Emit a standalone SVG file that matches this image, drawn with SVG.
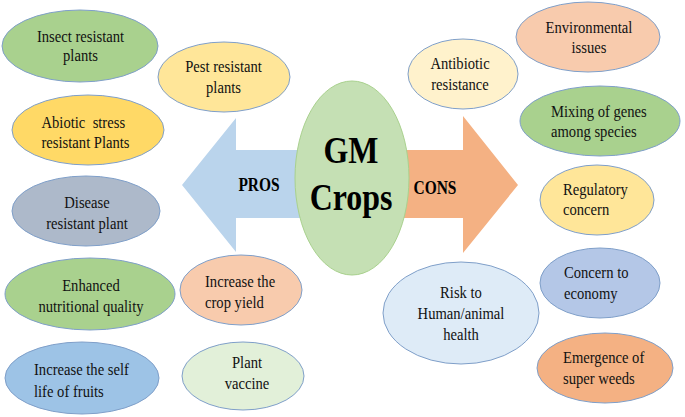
<svg xmlns="http://www.w3.org/2000/svg" width="685" height="417" viewBox="0 0 685 417">
<style>
.e{stroke:#7f9fc9;stroke-width:1}
.t{font-family:"Liberation Serif","Times New Roman",serif;font-size:17px;fill:#111}
.c{text-anchor:middle}
.b{font-weight:bold;fill:#000}
</style>
<rect width="685" height="417" fill="#fff"/>
<g id="connectors">
<polygon id="pros-arrow" points="182,185 236,118 236,150 325,150 325,218 236,218 236,252" fill="#bad4ec"/>
<polygon id="cons-arrow" points="385,150 463,150 463,116 518,185 463,253 463,218 385,218" fill="#f4b183"/>
<g transform="translate(259,0) scale(0.86,1)"><text class="t b c" x="0" y="191" style="font-size:18px">PROS</text></g>
<g transform="translate(435,0) scale(0.86,1)"><text class="t b c" x="0" y="194" style="font-size:18px">CONS</text></g>
</g>
<g id="gm-crops">
<ellipse class="e" cx="352" cy="178" rx="57" ry="97" fill="#c5e0b4" style="stroke:#a9d18e"/>
<g transform="translate(351,0) scale(0.84,1)"><text class="t b c" x="0" y="163" style="font-size:38px">GM</text><text class="t b c" x="0" y="210" style="font-size:38px">Crops</text></g>
</g>
<g id="insect">
<ellipse class="e" cx="80" cy="46" rx="78" ry="36" fill="#a9d18e"/>
<g transform="translate(80.5,0) scale(0.86,1)"><text class="t c" x="0" y="42">Insect resistant</text><text class="t c" x="0" y="61">plants</text></g>
</g>
<g id="pest">
<ellipse class="e" cx="224" cy="77" rx="66" ry="35" fill="#ffe699"/>
<g transform="translate(223.5,0) scale(0.86,1)"><text class="t c" x="0" y="72">Pest resistant</text><text class="t c" x="0" y="93">plants</text></g>
</g>
<g id="abiotic">
<ellipse class="e" cx="88" cy="130" rx="76" ry="35" fill="#ffd966"/>
<g transform="translate(41.5,0) scale(0.86,1)"><text class="t" x="0" y="128" xml:space="preserve">Abiotic  stress</text><text class="t" x="0" y="148">resistant Plants</text></g>
</g>
<g id="disease">
<ellipse class="e" cx="86" cy="211" rx="74" ry="35" fill="#adb9ca"/>
<g transform="translate(87,0) scale(0.86,1)"><text class="t c" x="0" y="208">Disease</text><text class="t c" x="0" y="229">resistant plant</text></g>
</g>
<g id="nutrition">
<ellipse class="e" cx="90" cy="294" rx="85" ry="36" fill="#a9d18e"/>
<g transform="translate(91,0) scale(0.86,1)"><text class="t c" x="0" y="291">Enhanced</text><text class="t c" x="0" y="312">nutritional quality</text></g>
</g>
<g id="shelf-life">
<ellipse class="e" cx="82" cy="378" rx="77" ry="36" fill="#9dc3e6"/>
<g transform="translate(34,0) scale(0.86,1)"><text class="t" x="0" y="375">Increase the self</text><text class="t" x="0" y="397">life of fruits</text></g>
</g>
<g id="crop-yield">
<ellipse class="e" cx="241" cy="290" rx="61" ry="35" fill="#f8cbad"/>
<g transform="translate(205,0) scale(0.86,1)"><text class="t" x="0" y="287">Increase the</text><text class="t" x="0" y="308">crop yield</text></g>
</g>
<g id="vaccine">
<ellipse class="e" cx="243" cy="376" rx="61" ry="34" fill="#e2f0d9"/>
<g transform="translate(247,0) scale(0.86,1)"><text class="t c" x="0" y="368">Plant</text><text class="t c" x="0" y="389">vaccine</text></g>
</g>
<g id="antibiotic">
<ellipse class="e" cx="463" cy="74" rx="55" ry="35" fill="#fff2cc"/>
<g transform="translate(460,0) scale(0.86,1)"><text class="t c" x="0" y="69">Antibiotic</text><text class="t c" x="0" y="90">resistance</text></g>
</g>
<g id="environmental">
<ellipse class="e" cx="588" cy="37" rx="72" ry="35" fill="#f8cbad"/>
<g transform="translate(589,0) scale(0.86,1)"><text class="t c" x="0" y="33">Environmental</text><text class="t c" x="0" y="53">issues</text></g>
</g>
<g id="mixing">
<ellipse class="e" cx="600" cy="121" rx="80" ry="35" fill="#a9d18e"/>
<g transform="translate(551,0) scale(0.86,1)"><text class="t" x="0" y="117">Mixing of genes</text><text class="t" x="0" y="137">among species</text></g>
</g>
<g id="regulatory">
<ellipse class="e" cx="597" cy="200" rx="57" ry="35" fill="#ffe699"/>
<g transform="translate(563,0) scale(0.86,1)"><text class="t" x="0" y="195">Regulatory</text><text class="t" x="0" y="215">concern</text></g>
</g>
<g id="health">
<ellipse class="e" cx="461" cy="313" rx="78" ry="51" fill="#deebf7"/>
<g transform="translate(461,0) scale(0.86,1)"><text class="t c" x="0" y="298">Risk to</text><text class="t c" x="0" y="319">Human/animal</text><text class="t c" x="0" y="340">health</text></g>
</g>
<g id="economy">
<ellipse class="e" cx="600" cy="283" rx="60" ry="35" fill="#b4c7e7"/>
<g transform="translate(564,0) scale(0.86,1)"><text class="t" x="0" y="278">Concern to</text><text class="t" x="0" y="299">economy</text></g>
</g>
<g id="super-weeds">
<ellipse class="e" cx="605" cy="368" rx="68" ry="35" fill="#f4b183"/>
<g transform="translate(563,0) scale(0.86,1)"><text class="t" x="0" y="363">Emergence of</text><text class="t" x="0" y="384">super weeds</text></g>
</g>
</svg>
